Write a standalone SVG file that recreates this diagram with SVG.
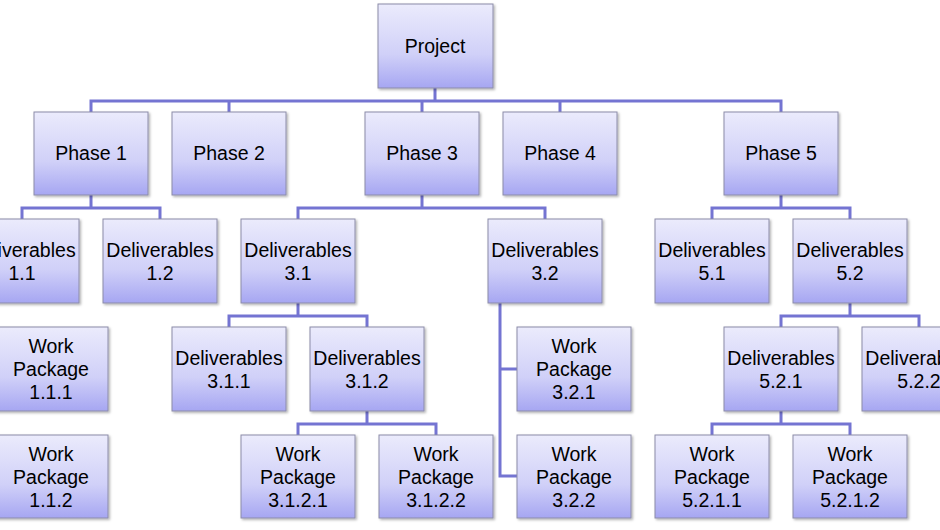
<svg xmlns="http://www.w3.org/2000/svg" width="940" height="530" viewBox="0 0 940 530">
<defs>
<linearGradient id="g" x1="0" y1="0" x2="0" y2="1"><stop offset="0" stop-color="#ebebfc"/><stop offset="0.6" stop-color="#d0d0f8"/><stop offset="1" stop-color="#a6a6f2"/></linearGradient>
<filter id="sh" x="-10%" y="-10%" width="130%" height="130%"><feDropShadow dx="1.5" dy="1.5" stdDeviation="1.2" flood-color="#000" flood-opacity="0.3"/></filter>
</defs>
<style>
.n rect{fill:url(#g);stroke:#8c8ca8;stroke-width:1;filter:url(#sh)}
.n text{font-family:"Liberation Sans",Arial,sans-serif;font-size:19.5px;fill:#000;text-anchor:middle}
#c path{fill:none;stroke:#7474d2;stroke-width:3}
</style>
<rect width="940" height="530" fill="#fff"/>
<g id="c">
<path d="M435 88V101M91 112V101H781V112M229 101V112M422 101V112M560 101V112"/>
<path d="M91 195V208M22 219V208H160V219"/>
<path d="M422 195V208M298 219V208H545V219"/>
<path d="M781 195V208M712 219V208H850V219"/>
<path d="M298 303V316M229 327V316H367V327"/>
<path d="M850 303V316M781 327V316H919V327"/>
<path d="M367 411V424M298 435V424H436V435"/>
<path d="M781 411V424M712 435V424H850V435"/>
<path d="M500 303V476H517M500 369H517"/>
</g>
<g id="project" class="n"><rect x="378" y="4" width="115" height="84"/><text x="435" y="53">Project</text></g>
<g id="p1" class="n"><rect x="34" y="112" width="114" height="83"/><text x="91" y="160">Phase 1</text></g>
<g id="p2" class="n"><rect x="172" y="112" width="114" height="83"/><text x="229" y="160">Phase 2</text></g>
<g id="p3" class="n"><rect x="365" y="112" width="114" height="83"/><text x="422" y="160">Phase 3</text></g>
<g id="p4" class="n"><rect x="503" y="112" width="114" height="83"/><text x="560" y="160">Phase 4</text></g>
<g id="p5" class="n"><rect x="724" y="112" width="114" height="83"/><text x="781" y="160">Phase 5</text></g>
<g id="d11" class="n"><rect x="-35" y="219" width="114" height="84"/><text x="22" y="257">Deliverables</text><text x="22" y="280">1.1</text></g>
<g id="d12" class="n"><rect x="103" y="219" width="114" height="84"/><text x="160" y="257">Deliverables</text><text x="160" y="280">1.2</text></g>
<g id="d31" class="n"><rect x="241" y="219" width="114" height="84"/><text x="298" y="257">Deliverables</text><text x="298" y="280">3.1</text></g>
<g id="d32" class="n"><rect x="488" y="219" width="114" height="84"/><text x="545" y="257">Deliverables</text><text x="545" y="280">3.2</text></g>
<g id="d51" class="n"><rect x="655" y="219" width="114" height="84"/><text x="712" y="257">Deliverables</text><text x="712" y="280">5.1</text></g>
<g id="d52" class="n"><rect x="793" y="219" width="114" height="84"/><text x="850" y="257">Deliverables</text><text x="850" y="280">5.2</text></g>
<g id="wp111" class="n"><rect x="-6" y="327" width="114" height="84"/><text x="51" y="353">Work</text><text x="51" y="376">Package</text><text x="51" y="399">1.1.1</text></g>
<g id="d311" class="n"><rect x="172" y="327" width="114" height="84"/><text x="229" y="365">Deliverables</text><text x="229" y="388">3.1.1</text></g>
<g id="d312" class="n"><rect x="310" y="327" width="114" height="84"/><text x="367" y="365">Deliverables</text><text x="367" y="388">3.1.2</text></g>
<g id="wp321" class="n"><rect x="517" y="327" width="114" height="84"/><text x="574" y="353">Work</text><text x="574" y="376">Package</text><text x="574" y="399">3.2.1</text></g>
<g id="d521" class="n"><rect x="724" y="327" width="114" height="84"/><text x="781" y="365">Deliverables</text><text x="781" y="388">5.2.1</text></g>
<g id="d522" class="n"><rect x="862" y="327" width="114" height="84"/><text x="919" y="365">Deliverables</text><text x="919" y="388">5.2.2</text></g>
<g id="wp112" class="n"><rect x="-6" y="435" width="114" height="83"/><text x="51" y="461">Work</text><text x="51" y="484">Package</text><text x="51" y="507">1.1.2</text></g>
<g id="wp3121" class="n"><rect x="241" y="435" width="114" height="83"/><text x="298" y="461">Work</text><text x="298" y="484">Package</text><text x="298" y="507">3.1.2.1</text></g>
<g id="wp3122" class="n"><rect x="379" y="435" width="114" height="83"/><text x="436" y="461">Work</text><text x="436" y="484">Package</text><text x="436" y="507">3.1.2.2</text></g>
<g id="wp322" class="n"><rect x="517" y="435" width="114" height="83"/><text x="574" y="461">Work</text><text x="574" y="484">Package</text><text x="574" y="507">3.2.2</text></g>
<g id="wp5211" class="n"><rect x="655" y="435" width="114" height="83"/><text x="712" y="461">Work</text><text x="712" y="484">Package</text><text x="712" y="507">5.2.1.1</text></g>
<g id="wp5212" class="n"><rect x="793" y="435" width="114" height="83"/><text x="850" y="461">Work</text><text x="850" y="484">Package</text><text x="850" y="507">5.2.1.2</text></g>
</svg>
